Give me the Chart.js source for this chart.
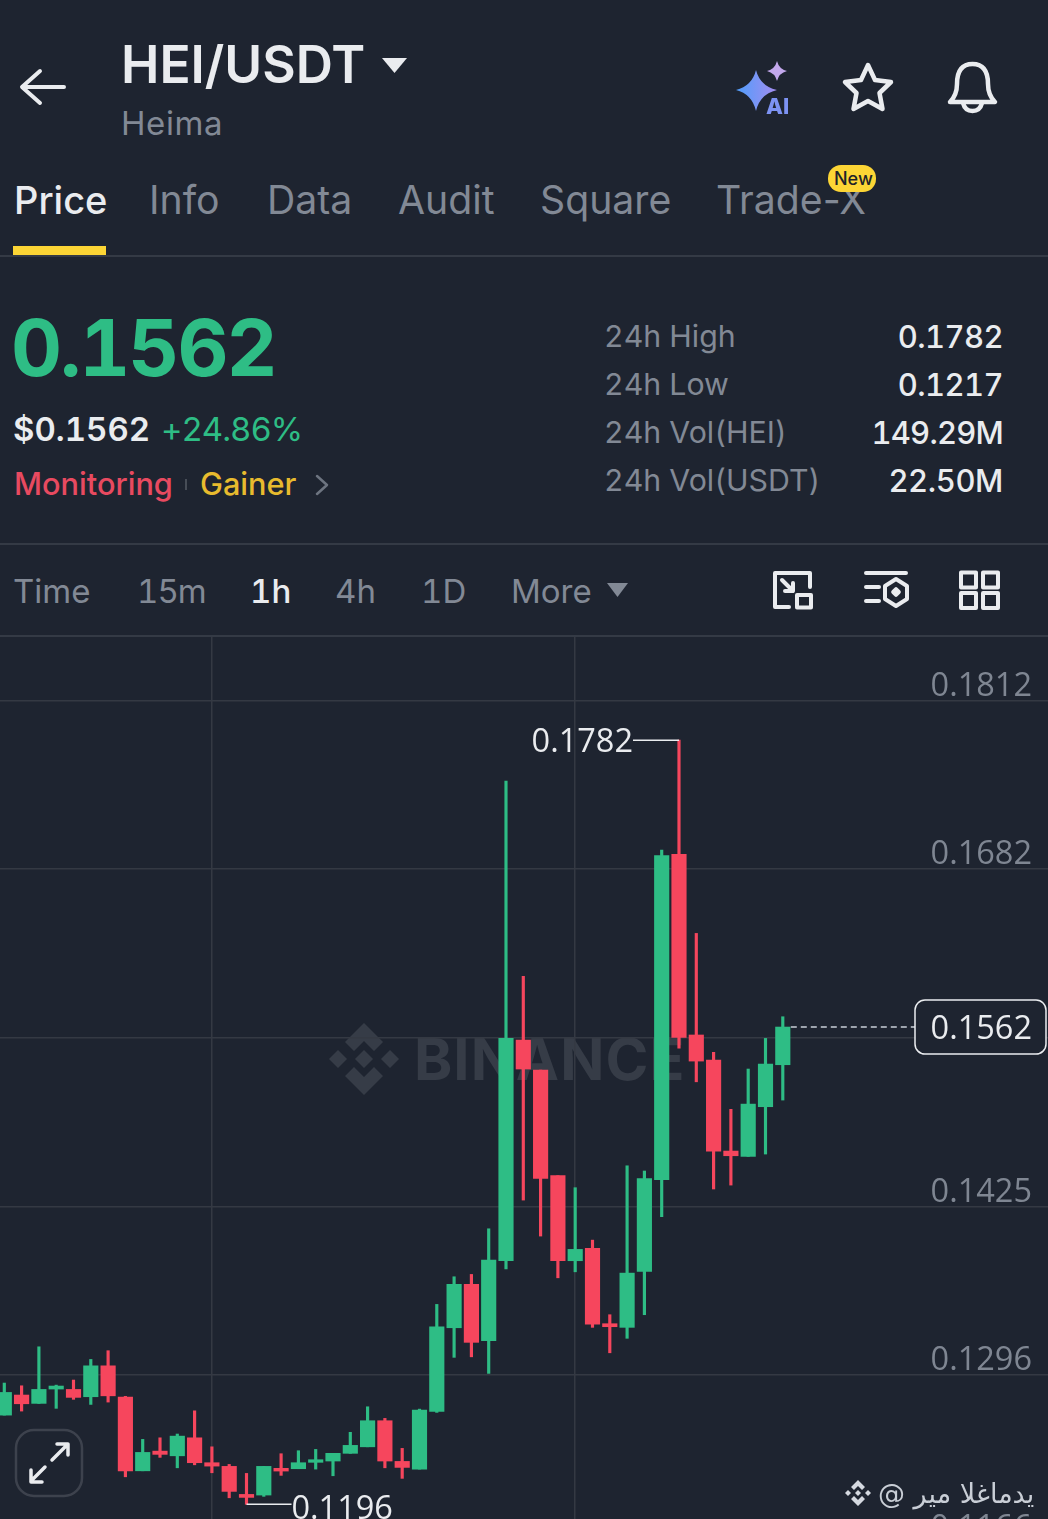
<!DOCTYPE html>
<html><head><meta charset="utf-8">
<script src="https://cdn.jsdelivr.net/npm/chart.js@4/dist/chart.umd.min.js"></script>
<style>
html,body{margin:0;padding:0;width:1048px;height:1519px;overflow:hidden;background:#1e2430;font-family:Inter,"Noto Sans",sans-serif;font-variant-numeric:tabular-nums}
.t{position:absolute;white-space:nowrap;line-height:1;transform:translateY(-50%)}
.r{transform:translate(-100%,-50%)}
.g{color:#828995}
.tab{font-size:39.200px;font-variant-numeric:normal}
.hr{position:absolute;left:0;width:1048px;height:2px;background:#343a45}
#wrap{position:absolute;left:0;top:637px;width:1048px;height:923px}
svg{position:absolute;left:0;top:0;pointer-events:none}
</style></head><body>

<div class="t" style="left:121px;top:65px;font-size:51.500px;font-weight:600;color:#eaecef">HEI/USDT</div>
<div class="t g" style="left:121px;top:123px;font-size:33px;letter-spacing:.6px">Heima</div>

<div class="t" style="left:14px;top:200px;font-size:38px;font-weight:500;color:#eaecef">Price</div>
<div class="t g tab" style="left:149px;top:200px">Info</div>
<div class="t g tab" style="left:267px;top:200px">Data</div>
<div class="t g tab" style="left:398px;top:200px">Audit</div>
<div class="t g tab" style="left:540px;top:200px">Square</div>
<div class="t g tab" style="left:716px;top:200px">Trade-X</div>
<div style="position:absolute;left:828px;top:165px;width:48px;height:27px;border-radius:13px;background:#fcd535"></div>
<div class="t" style="left:834px;top:179px;font-size:18px;font-weight:500;color:#1e2329">New</div>
<div style="position:absolute;left:13px;top:246px;width:93px;height:9px;background:#fcd535"></div>
<div class="hr" style="top:255px"></div>

<div class="t" style="left:11px;top:347px;font-size:79px;font-weight:700;letter-spacing:-2px;color:#2ebd85">0.1562</div>
<div class="t" style="left:13px;top:429px;font-size:33px;font-weight:600;color:#eaecef">$0.1562</div>
<div class="t" style="left:161px;top:429px;font-size:33px;letter-spacing:-1px;color:#2ebd85">+24.86%</div>
<div class="t" style="left:14px;top:484px;font-size:30.700px;font-weight:500;color:#e84a60">Monitoring</div>
<div style="position:absolute;left:185px;top:479px;width:2px;height:11px;background:#474d57"></div>
<div class="t" style="left:200px;top:484px;font-size:30.700px;font-weight:500;color:#e8bb2e">Gainer</div>

<div class="t g" style="left:604px;top:336px;font-size:30.300px">24h High</div>
<div class="t g" style="left:604px;top:384px;font-size:30.300px">24h Low</div>
<div class="t g" style="left:604px;top:432px;font-size:30.300px">24h Vol(HEI)</div>
<div class="t g" style="left:604px;top:480px;font-size:30.300px">24h Vol(USDT)</div>
<div class="t r" style="left:1003px;top:336px;font-size:31px;font-weight:500;letter-spacing:-.6px;color:#eaecef">0.1782</div>
<div class="t r" style="left:1003px;top:384px;font-size:31px;font-weight:500;letter-spacing:-.6px;color:#eaecef">0.1217</div>
<div class="t r" style="left:1003px;top:432px;font-size:31px;font-weight:500;letter-spacing:-.8px;color:#eaecef">149.29M</div>
<div class="t r" style="left:1003px;top:480px;font-size:31px;font-weight:500;letter-spacing:-.4px;color:#eaecef">22.50M</div>
<div class="hr" style="top:543px"></div>

<div class="t g" style="left:13px;top:591px;font-size:33px">Time</div>
<div class="t g" style="left:137px;top:591px;font-size:33px;letter-spacing:-1px">15m</div>
<div class="t" style="left:250px;top:591px;font-size:33px;font-weight:500;color:#eaecef">1h</div>
<div class="t g" style="left:335px;top:591px;font-size:33px">4h</div>
<div class="t g" style="left:421px;top:591px;font-size:33px">1D</div>
<div class="t g" style="left:511px;top:591px;font-size:33px">More</div>
<div class="hr" style="top:635px"></div>

<!-- watermark lies under the transparent chart canvas -->
<div class="t" style="left:414px;top:1059px;font-size:58px;font-weight:700;color:#363c47;letter-spacing:1px">BINANCE</div>
<svg width="1048" height="1519" style="z-index:0">
  <g fill="#363c47" transform="translate(364 1059)">
    <path d="M0-36 19-17 10-8 0-18-10-8-19-17Z"/><path d="M0 36 19 17 10 8 0 18-10 8-19 17Z"/>
    <path d="M-35 0-26-9-17 0-26 9Z"/><path d="M35 0 26-9 17 0 26 9Z"/><path d="M0-9 9 0 0 9-9 0Z"/>
  </g>
</svg>

<div id="wrap"><canvas id="c"></canvas></div>

<div class="t" style="left:878px;top:1493px;font-size:27px;font-family:'DejaVu Sans',sans-serif;color:#c9ced6"><bdo dir="ltr">@ ريم الغامدي</bdo></div>

<svg width="1048" height="1519" style="z-index:3" fill="none" stroke-linecap="round" stroke-linejoin="round">
  <defs><linearGradient id="ai" x1="0" y1="0" x2="1" y2="0"><stop offset="0" stop-color="#4f9dfb"/><stop offset="1" stop-color="#a48df0"/></linearGradient></defs>
  <!-- back arrow and title caret -->
  <path d="M23 87H64M40 71 22 87 40 103" stroke="#eaecef" stroke-width="4"/>
  <path d="M382 58H407L394.500 73Z" fill="#eaecef"/>
  <!-- AI sparkle -->
  <path d="M756 70Q760 86 777 90 760 94 756 111 752 94 736 90 752 86 756 70Z" fill="url(#ai)"/>
  <path d="M777 61Q779 69 787 71 779 73 777 81 775 73 767 71 775 69 777 61Z" fill="#c3a8ec"/>
  <text x="766" y="114" font-size="22" font-weight="800" fill="#7d93f3" font-family="Inter">AI</text>
  <!-- star -->
  <path d="M868 65 875 80 891 82 879.500 93 882.500 109 868 101 853.500 109 856.500 93 845 82 861 80Z" stroke="#eaecef" stroke-width="4.500"/>
  <!-- bell -->
  <path d="M950 102Q957 95 957 84 957 64 972.500 64 988 64 988 84 988 95 995 102Z" stroke="#eaecef" stroke-width="4.500"/>
  <path d="M963 103Q965 111 972.500 111 980 111 982 103" stroke="#eaecef" stroke-width="4.500"/>
  <!-- chevron, More caret -->
  <path d="M317 476 327 485 317 494" stroke="#6d7480" stroke-width="2.500"/>
  <path d="M607 583H628L617.500 597Z" fill="#828995"/>
  <!-- interval toolbar icons -->
  <g stroke="#eaecef" stroke-width="4">
    <path d="M789 607H775V573H810V587"/><path d="M782 580 793 591M793 583V591H785"/>
    <rect x="797" y="595" width="14" height="12.500"/>
    <path d="M866 573H906M866 587H879M866 601H879"/><path d="M896 579 907 586V599L896 606 885 599V586Z"/>
    <rect x="894" y="590" width="4" height="4" transform="rotate(45 896 592)"/>
    <rect x="961" y="572.500" width="15" height="15"/><rect x="983" y="572.500" width="15" height="15"/>
    <rect x="961" y="593" width="15" height="15"/><rect x="983" y="593" width="15" height="15"/>
  </g>
  <!-- expand button -->
  <rect x="16" y="1430" width="66" height="66" rx="18" stroke="#3d424d" stroke-width="2.500"/>
  <path d="M52 1460 68 1444M57 1444H68V1455M45 1467 31 1481M31 1470V1482H42" stroke="#eaecef" stroke-width="3.500"/>
  <!-- small brand mark -->
  <g fill="#d5d9e0" transform="translate(858 1493)">
    <path d="M0-13 7-6 4-3 0-7-4-3-7-6Z"/><path d="M0 13 7 6 4 3 0 7-4 3-7 6Z"/>
    <path d="M-13 0-10-3-7 0-10 3Z"/><path d="M13 0 10-3 7 0 10 3Z"/><path d="M0-3 3 0 0 3-3 0Z"/>
  </g>
</svg>

<script>
// Candle slots: one hourly candle per index, read left to right
const candleIndex = [0,1,2,3,4,5,6,7,8,9,10,11,12,13,14,15,16,17,18,19,20,21,22,23,24,25,26,27,28,29,30,31,32,33,34,35,36,37,38,39,40,41,42,43,44,45];
const opens  = [.12644,.12798,.12734,.12844,.12841,.12785,.13022,.12782,.12217,.12368,.12332,.12470,.12279,.12251,.12036,.12031,.12236,.12233,.12282,.12292,.12351,.12401,.12601,.12289,.12230,.12673,.13314,.13647,.13214,.13828,.15520,.15290,.14480,.13828,.13923,.13345,.13317,.13746,.14449,.16944,.15559,.15367,.14669,.14628,.15009,.15331];
const closes = [.12818,.12731,.12841,.12867,.12780,.13022,.12792,.12217,.12358,.12343,.12483,.12279,.12253,.12059,.12013,.12251,.12215,.12279,.12302,.12351,.12412,.12601,.12292,.12243,.12683,.13322,.13647,.13202,.13833,.15533,.15298,.14460,.13828,.13915,.13342,.13322,.13733,.14457,.16934,.15541,.15359,.14669,.14633,.15029,.15336,.15620];
const highs  = [.12890,.12869,.13168,.12874,.12913,.13071,.13138,.12788,.12458,.12470,.12499,.12677,.12401,.12266,.12197,.12251,.12348,.12371,.12381,.12351,.12512,.12708,.12619,.12389,.12690,.13493,.13705,.13723,.14073,.17506,.16009,.15290,.14480,.14388,.13986,.13414,.14556,.14516,.16977,.17820,.16338,.15426,.14989,.15298,.15533,.15699];
const lows   = [.12644,.12675,.12734,.12696,.12765,.12726,.12744,.12171,.12217,.12320,.12240,.12263,.12202,.12010,.11960,.12021,.12182,.12233,.12230,.12179,.12351,.12401,.12240,.12159,.12230,.12665,.13087,.13091,.12964,.13766,.14293,.14017,.13697,.13743,.13317,.13122,.13233,.13414,.14165,.15457,.15200,.14378,.14408,.14628,.14646,.15060];
// Right-hand price axis
const gridPrices = [.18120,.16832,.15538,.14242,.12952,.11664];
const tickLabels = ['0.1812','0.1682','0.1553','0.1425','0.1296','0.1166'];
const timeGridSlots = [12,33];
const highIndex = 39, lowIndex = 14, lastIndex = 45;
const highText = '0.1782', lowText = '0.1196', lastText = '0.1562';

const GREEN='#2ebd85', RED='#f6465d', AXIS='#7f8692', GRID='#343943', FONT='"Open Sans"', FS=32.5;
const colors = candleIndex.map(i => closes[i] >= opens[i] ? GREEN : RED);

const annotations = {
  id:'annotations',
  afterDatasetsDraw(chart){
    const {ctx, scales:{x,y}} = chart;
    ctx.save();
    ctx.font = FS+'px '+FONT;
    ctx.textBaseline = 'middle';
    ctx.fillStyle = '#eaecef';
    ctx.strokeStyle = '#eaecef';
    ctx.lineWidth = 1.5;
    // highest price label with leader
    const hx = x.getPixelForValue(highIndex), hy = y.getPixelForValue(highs[highIndex]);
    ctx.beginPath(); ctx.moveTo(hx,hy); ctx.lineTo(hx-46,hy); ctx.stroke();
    ctx.textAlign='right'; ctx.fillText(highText,hx-46,hy+3);
    // lowest price label with leader
    const lx = x.getPixelForValue(lowIndex), ly = y.getPixelForValue(lows[lowIndex]);
    ctx.beginPath(); ctx.moveTo(lx,ly); ctx.lineTo(lx+45,ly); ctx.stroke();
    ctx.textAlign='left'; ctx.fillText(lowText,lx+45,ly+5);
    // last price dashed line and pill
    const px = x.getPixelForValue(lastIndex)+8, py = y.getPixelForValue(closes[lastIndex]);
    ctx.setLineDash([6,4]); ctx.strokeStyle='#c9ced6'; ctx.lineWidth=1.5;
    ctx.beginPath(); ctx.moveTo(px,py); ctx.lineTo(915,py); ctx.stroke();
    ctx.setLineDash([]);
    ctx.beginPath(); ctx.roundRect(915,py-27,131,54,10);
    ctx.fillStyle='#1e2430'; ctx.fill();
    ctx.strokeStyle='#eaecef'; ctx.lineWidth=1.5; ctx.stroke();
    ctx.fillStyle='#eaecef'; ctx.textAlign='right'; ctx.fillText(lastText,1032,py+3);
    ctx.restore();
  }
};

new Chart(document.getElementById('c'),{
  type:'bar',
  data:{datasets:[
    {label:'Body', data:candleIndex.map(i=>({x:i,y:[opens[i],closes[i]]})), backgroundColor:colors, barThickness:14.5, grouped:false, borderWidth:0, borderSkipped:false},
    {label:'Wick', data:candleIndex.map(i=>({x:i,y:[lows[i],highs[i]]})), backgroundColor:colors, barThickness:2.5, grouped:false, borderWidth:0, borderSkipped:false}
  ]},
  options:{
    responsive:true, maintainAspectRatio:false, animation:false,
    layout:{padding:0},
    plugins:{legend:{display:false},tooltip:{enabled:false}},
    scales:{
      x:{type:'linear',min:-0.2486,max:60.33,offset:false,
        afterBuildTicks(s){s.ticks=timeGridSlots.map(v=>({value:v}));},
        afterFit(s){s.height=0;s.paddingLeft=0;s.paddingRight=0;s.paddingTop=0;s.paddingBottom=0;},
        grid:{color:GRID,lineWidth:1.5,drawTicks:false,offset:false},border:{display:false},
        ticks:{display:false}},
      y:{type:'linear',position:'right',min:.11533,max:.18611,
        afterBuildTicks(s){s.ticks=gridPrices.map(v=>({value:v}));},
        afterFit(s){s.width=0;s.paddingTop=0;s.paddingBottom=0;s.paddingLeft=0;s.paddingRight=0;},
        grid:{color:GRID,lineWidth:1.5,drawTicks:false},border:{display:false},
        ticks:{mirror:true,padding:-16,labelOffset:-14,color:AXIS,font:{family:FONT,size:FS},
          callback(v){return tickLabels[gridPrices.indexOf(v)];}}}
    }
  },
  plugins:[annotations]
});
</script>
</body></html>
